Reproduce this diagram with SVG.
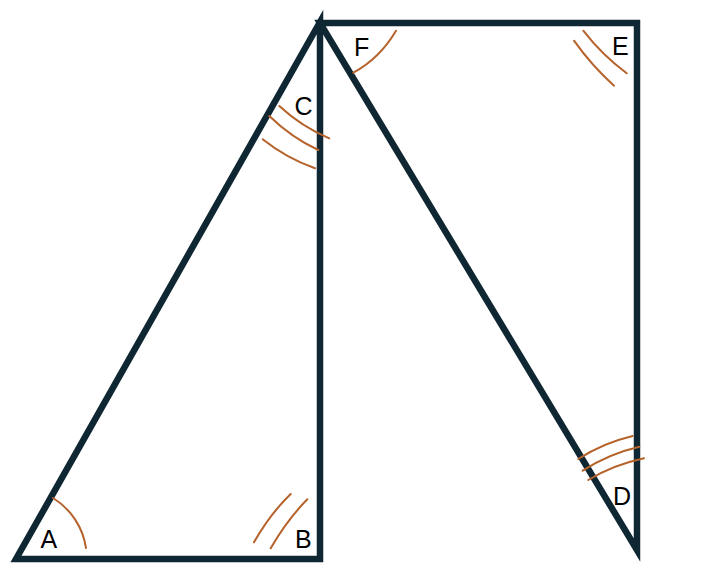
<svg xmlns="http://www.w3.org/2000/svg" width="708" height="582" viewBox="0 0 708 582">
<style>
.edge{fill:none;stroke:#0f2633;stroke-width:6.5;stroke-linejoin:miter;stroke-miterlimit:10}
.mark{fill:none;stroke:#b5622b;stroke-width:2;stroke-linecap:round}
.lbl{font-family:"Liberation Sans",Arial,sans-serif;font-size:25px;fill:#000}
</style>
<rect width="708" height="582" fill="#fff"/>
<g id="connectors">
<path class="edge" d="M16,559 L320,559 L320,22 Z"/>
<path class="edge" d="M320,23 L637,23 L637,550 Z"/>
</g>
<g id="node-A">
<path class="mark" d="M53,498 A71,71 0 0 1 86,548"/>
<text class="lbl" x="40.5" y="548">A</text>
</g>
<g id="node-B">
<path class="mark" d="M290.7,494 Q270,514 254,542.3"/>
<path class="mark" d="M307.3,499.3 Q287,520 270.7,548.3"/>
<text class="lbl" x="295" y="548">B</text>
</g>
<g id="node-C">
<path class="mark" d="M279.3,106 Q302,127 329.3,138.3"/>
<path class="mark" d="M269.3,116 Q292,138 318.3,150"/>
<path class="mark" d="M262.7,139.3 Q286,158 315,168.3"/>
<text class="lbl" x="294.5" y="115">C</text>
</g>
<g id="node-F">
<path class="mark" d="M396,30.7 Q380,58 353.3,72.7"/>
<text class="lbl" x="354" y="55.5">F</text>
</g>
<g id="node-E">
<path class="mark" d="M583.3,30.7 Q602,55 626.7,73.3"/>
<path class="mark" d="M574,40.7 Q592,66 614,85.7"/>
<text class="lbl" x="612" y="55">E</text>
</g>
<g id="node-D">
<path class="mark" d="M578.3,459 Q603,443 632.7,436"/>
<path class="mark" d="M582.7,470.7 Q608,454 639.3,446.7"/>
<path class="mark" d="M588.3,480 Q613,465 644,458.3"/>
<text class="lbl" x="613" y="505">D</text>
</g>
</svg>
